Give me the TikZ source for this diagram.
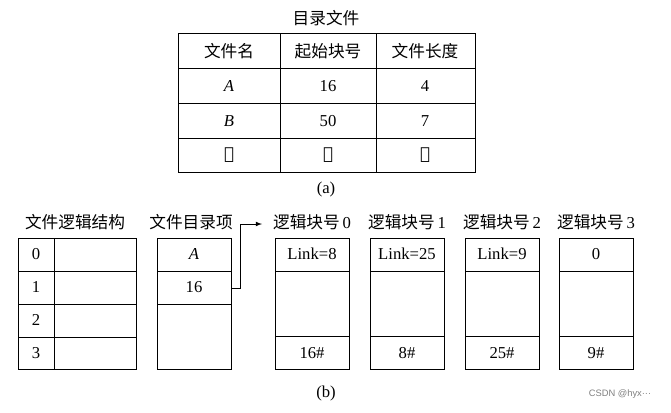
\documentclass[tikz,border=0pt]{standalone}
\usepackage{fontspec}
\setmainfont{Liberation Serif}
\newfontfamily\cjk{Noto Sans CJK SC}
\newfontfamily\lsans{Liberation Sans}
\newfontfamily\dvs{DejaVu Serif}
\begin{document}
\begin{tikzpicture}[x=0.75pt,y=-0.75pt,
  ln/.style={draw=black,line width=0.6pt},
  tx/.style={font=\fontsize{12.5}{14}\selectfont,inner sep=0pt},
  cj/.style={font=\fontsize{12.5}{14}\selectfont\cjk,inner sep=0pt}]
\useasboundingbox (0,0) rectangle (671,412);
% top table
\node[cj] (t1) at (326,18) {目录文件};
\draw[ln] (178,33) rectangle (475,172);
\foreach \y in {68,103,138} \draw[ln] (178,\y) -- (475,\y);
\foreach \x in {280,376} \draw[ln] (\x,33) -- (\x,172);
\node[cj] (h1) at (229,51) {文件名};
\node[cj] (h2) at (328,51) {起始块号};
\node[cj] (h3) at (425,51) {文件长度};
\node[tx] (a1) at (229,86) {\textit{A}};
\node[tx] (a2) at (328,86) {16};
\node[tx] (a3) at (425,86) {4};
\node[tx] (b1) at (229,121) {\textit{B}};
\node[tx] (b2) at (328,121) {50};
\node[tx] (b3) at (425,121) {7};
\node[tx,font=\fontsize{12.5}{14}\selectfont\dvs] (c1) at (229,155) {⋮};
\node[tx,font=\fontsize{12.5}{14}\selectfont\dvs] (c2) at (328,155) {⋮};
\node[tx,font=\fontsize{12.5}{14}\selectfont\dvs] (c3) at (425,155) {⋮};
\node[tx] (la) at (326,189) {(a)};
% left table
\node[cj] (lt) at (75,222) {文件逻辑结构};
\draw[ln] (18,238) rectangle (136,369);
\foreach \y in {271,304,337} \draw[ln] (18,\y) -- (136,\y);
\draw[ln] (54,238) -- (54,369);
\foreach \i/\y in {0/254,1/287,2/320,3/353} \node[tx] (l\i) at (36,\y) {\i};
% directory
\node[cj] (dt) at (191,222) {文件目录项};
\draw[ln] (157,238) rectangle (231,369);
\foreach \y in {271,304} \draw[ln] (157,\y) -- (231,\y);
\node[tx] (dA) at (194,254) {\textit{A}};
\node[tx] (d16) at (194,287) {16};
\coordinate (s) at (231,288);
\coordinate (e) at (262,224);
\draw[line width=0.6pt,-latex] (s) -- (240,288) -- (240,224) -- (e);
% blocks
\foreach \x/\n/\t/\b in {275/0/Link=8/16\#,370/1/Link=25/8\#,465/2/Link=9/25\#,559/3/0/9\#}{
  \draw[ln] (\x,238) rectangle (\x+74,369);
  \draw[ln] (\x,271) -- (\x+74,271);
  \draw[ln] (\x,336) -- (\x+74,336);
  \node[cj] (bt\n) at (\x+37,222) {逻辑块号\,{\rmfamily\n}};
  \node[tx] (bl\n) at (\x+37,254) {\t};
  \node[tx] (bb\n) at (\x+37,353) {\b};
}
\node[tx] (lb) at (326,393) {(b)};
\node[font=\fontsize{7}{8}\selectfont\lsans,text=gray,inner sep=0pt] (wm) at (620,394) {CSDN @hyx···};
\end{tikzpicture}
\end{document}
